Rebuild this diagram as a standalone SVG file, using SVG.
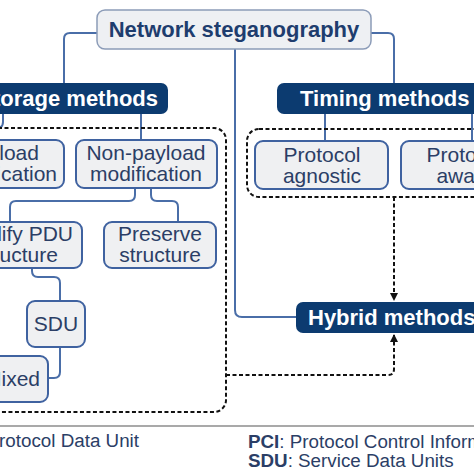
<svg xmlns="http://www.w3.org/2000/svg" width="474" height="474" viewBox="0 0 474 474">
<defs>
<style>
.conn{fill:none;stroke:#4a6ea8;stroke-width:2;stroke-linecap:round}
.dash{fill:none;stroke:#111;stroke-width:2;stroke-dasharray:4 2.5}
.dark rect{fill:#0c3b70;stroke:none}
.dark text{fill:#fff;font-family:"Liberation Sans",Arial,sans-serif;font-weight:bold;font-size:22px}
.light rect{fill:#eff0f2;stroke:#3f62a0;stroke-width:2}
.light text{fill:#2b3e66;font-family:"Liberation Sans",Arial,sans-serif;font-size:21px;text-anchor:middle}
.legend{fill:#2b3e66;font-family:"Liberation Sans",Arial,sans-serif;font-size:18.8px}
</style>
<marker id="ah" viewBox="0 0 10 10" refX="10" refY="5" markerWidth="8" markerHeight="9" markerUnits="userSpaceOnUse" orient="auto">
<path d="M0,0 L10,5 L0,10 z" fill="#111"/>
</marker>
</defs>
<rect width="474" height="474" fill="#fff"/>
<g id="connectors">
<path class="conn" d="M97,33 H70 Q64,33 64,39 V83"/>
<path class="conn" d="M371,33 H388 Q394,33 394,39 V83"/>
<path class="conn" d="M235,49 V310 Q235,317 242,317 H296"/>
<path class="conn" d="M3,114 V122 Q3,128 -3,128 H-20"/>
<path class="conn" d="M141,114 V140"/>
<path class="conn" d="M325,114 V140"/>
<path class="conn" d="M472,114 V140"/>
<path class="conn" d="M135,188 V195 Q135,201 129,201 H16 Q10,201 10,207 V222"/>
<path class="conn" d="M151,188 V195 Q151,201 157,201 H172 Q178,201 178,207 V222"/>
<path class="conn" d="M32,268 V271 Q32,277 38,277 H54 Q60,277 60,283 V301"/>
<path class="conn" d="M60,347 V372 Q60,378 54,378 H48"/>
<rect class="dash" x="-40" y="128" width="266" height="284" rx="12"/>
<rect class="dash" x="247" y="129" width="260" height="68" rx="12"/>
<path class="dash" d="M394,197 V301" marker-end="url(#ah)"/>
<path class="dash" d="M226,375 H388 Q394,375 394,369 V334" marker-end="url(#ah)"/>
<line x1="0" y1="426" x2="474" y2="426" stroke="#8c8c8c" stroke-width="1.5"/>
</g>
<g id="network-steganography">
<rect x="97" y="10" width="274" height="39" rx="8" fill="#eef0f3" stroke="#8c9cb8" stroke-width="1.5"/>
<text x="234" y="37" text-anchor="middle" fill="#1e3d6e" font-family="Liberation Sans, Arial, sans-serif" font-weight="bold" font-size="22">Network steganography</text>
</g>
<g id="storage-methods" class="dark">
<rect x="-40" y="83" width="208" height="31" rx="7"/>
<text x="158" y="106" text-anchor="end">Storage methods</text>
</g>
<g id="timing-methods" class="dark">
<rect x="277" y="83" width="217" height="31" rx="7"/>
<text x="300" y="106">Timing methods</text>
</g>
<g id="hybrid-methods" class="dark">
<rect x="296" y="302" width="190" height="31" rx="7"/>
<text x="308" y="325">Hybrid methods</text>
</g>
<g id="payload-modification" class="light">
<rect x="-62" y="140" width="126" height="48" rx="8"/>
<text x="1" y="159.5">Payload</text>
<text x="1" y="180.5">modification</text>
</g>
<g id="non-payload-modification" class="light">
<rect x="76" y="140" width="141" height="48" rx="8"/>
<text x="146" y="159.5">Non-payload</text>
<text x="146" y="180.5">modification</text>
</g>
<g id="modify-pdu-structure" class="light">
<rect x="-48" y="222" width="130" height="46" rx="8"/>
<text x="17" y="240.5">Modify PDU</text>
<text x="17" y="262">structure</text>
</g>
<g id="preserve-structure" class="light">
<rect x="104" y="222" width="112" height="46" rx="8"/>
<text x="160" y="240.5">Preserve</text>
<text x="160" y="262">structure</text>
</g>
<g id="sdu" class="light">
<rect x="27" y="301" width="58" height="46" rx="8"/>
<text x="56" y="331">SDU</text>
</g>
<g id="mixed" class="light">
<rect x="-30" y="356" width="78" height="46" rx="8"/>
<text x="12" y="386">Mixed</text>
</g>
<g id="protocol-agnostic" class="light">
<rect x="255" y="141" width="133" height="48" rx="8"/>
<text x="322" y="162">Protocol</text>
<text x="322" y="183">agnostic</text>
</g>
<g id="protocol-aware" class="light">
<rect x="401" y="141" width="126" height="48" rx="8"/>
<text x="465" y="162">Protocol</text>
<text x="465" y="183">aware</text>
</g>
<g id="legend">
<text class="legend" x="139" y="447" text-anchor="end"><tspan font-weight="bold">PDU</tspan>: Protocol Data Unit</text>
<text class="legend" x="248" y="448"><tspan font-weight="bold">PCI</tspan>: Protocol Control Information</text>
<text class="legend" x="248" y="467"><tspan font-weight="bold">SDU</tspan>: Service Data Units</text>
</g>
</svg>
